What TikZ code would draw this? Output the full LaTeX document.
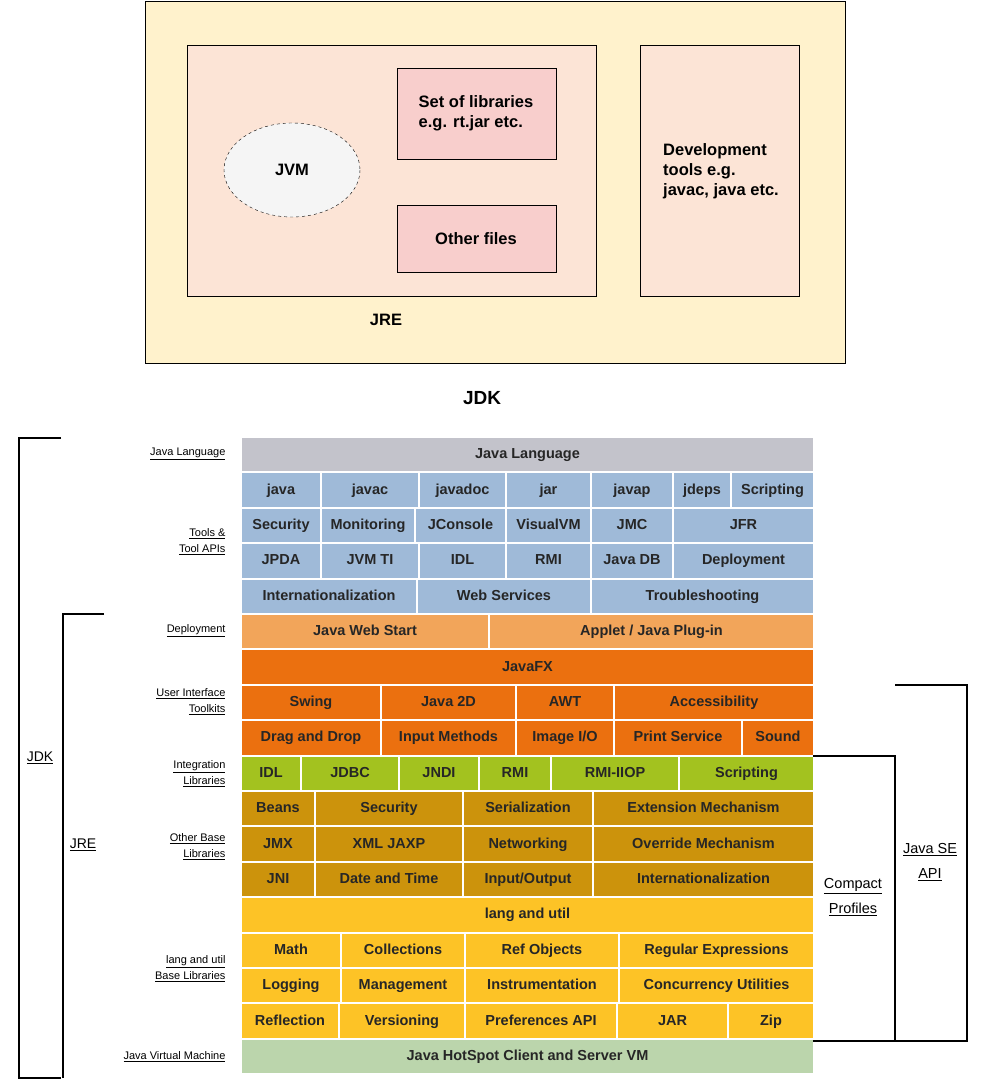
\documentclass[tikz,border=0pt]{standalone}
\usepackage{fontspec}
\setmainfont{Liberation Sans}
\usetikzlibrary{positioning}
\definecolor{creamjdk}{HTML}{FFF2CC}
\definecolor{peachjre}{HTML}{FCE4D6}
\definecolor{pinklib}{HTML}{F8CECC}
\definecolor{langgray}{HTML}{C3C3CB}
\definecolor{toolblue}{HTML}{9FBAD8}
\definecolor{deployorange}{HTML}{F2A55A}
\definecolor{uiorange}{HTML}{EB700F}
\definecolor{integgreen}{HTML}{A3C21F}
\definecolor{basegold}{HTML}{CC930C}
\definecolor{langyellow}{HTML}{FDC326}
\definecolor{vmgreen}{HTML}{BBD5AC}
\tikzset{
  cell/.style={inner sep=0pt, minimum height=33.4pt, text height=11pt, text depth=3pt, font=\bfseries\fontsize{14.5}{16}\selectfont, text=black!85},
  side/.style={align=right, anchor=east, font=\fontsize{11}{16}\selectfont},
  brk/.style={line width=2pt},
  boxtxt/.style={font=\bfseries\fontsize{16.5}{20}\selectfont, align=left}
}
% one row of the platform grid: row, fill, list of x1/x2/text
\newcommand\gridrow[3]{%
  \foreach \xa/\xb/\txt [count=\k] in {#3}
    \node[cell, fill=#2, minimum width={\xb-\xa}] (r#1c\k) at ({(\xa+\xb)/2},{438+35.4*(#1-1)+16.7}) {\txt};}

\begin{document}
\begin{tikzpicture}[x=1pt,y=-1pt]
\useasboundingbox (0,0) rectangle (992,1087);
%================================================================
%	JDK / JRE picture
\draw[fill=creamjdk] (145,1) rectangle (845,363);
\draw[fill=peachjre] (187,45) rectangle (596,296);
\draw[fill=peachjre] (640,45) rectangle (799,296);
\draw[fill=pinklib] (397,68) rectangle (556,159);
\draw[fill=pinklib] (397,205) rectangle (556,272);
\draw[dashed, fill=black!4] (292,170) ellipse (68 and 47);
%----------------------------------------------------------------
\node[boxtxt] (jvm) at (292,170) {JVM};
\node[boxtxt] (libs) at (476,113) {Set of libraries\\e.g. rt.jar etc.};
\node[boxtxt] (other) at (476,239) {Other files};
\node[boxtxt] (dev) at (721,171) {Development\\tools e.g.\\javac, java etc.};
\node[boxtxt] (jrelbl) at (386,320) {JRE};
\node[boxtxt, font=\bfseries\fontsize{19}{22}\selectfont] (jdklbl) at (482,398) {JDK};
%================================================================
%	Platform grid
\gridrow{1}{langgray}{242/813/Java Language}
\gridrow{2}{toolblue}{242/320/java, 322/418/javac, 420/505/javadoc, 507/590/jar, 592/672/javap, 674/730/jdeps, 732/813/Scripting}
\gridrow{3}{toolblue}{242/320/Security, 322/414/Monitoring, 416/505/JConsole, 507/590/VisualVM, 592/672/JMC, 674/813/JFR}
\gridrow{4}{toolblue}{242/320/JPDA, 322/418/JVM TI, 420/505/IDL, 507/590/RMI, 592/672/Java DB, 674/813/Deployment}
\gridrow{5}{toolblue}{242/416/Internationalization, 418/590/Web Services, 592/813/Troubleshooting}
\gridrow{6}{deployorange}{242/488/Java Web Start, 490/813/{Applet / Java Plug-in}}
\gridrow{7}{uiorange}{242/813/JavaFX}
\gridrow{8}{uiorange}{242/380/Swing, 382/515/Java 2D, 517/613/AWT, 615/813/Accessibility}
\gridrow{9}{uiorange}{242/380/Drag and Drop, 382/515/Input Methods, 517/613/{Image I/O}, 615/741/Print Service, 743/813/Sound}
\gridrow{10}{integgreen}{242/300/IDL, 302/398/JDBC, 400/478/JNDI, 480/550/RMI, 552/678/RMI-IIOP, 680/813/Scripting}
\gridrow{11}{basegold}{242/314/Beans, 316/462/Security, 464/592/Serialization, 594/813/Extension Mechanism}
\gridrow{12}{basegold}{242/314/JMX, 316/462/XML JAXP, 464/592/Networking, 594/813/Override Mechanism}
\gridrow{13}{basegold}{242/314/JNI, 316/462/Date and Time, 464/592/{Input/Output}, 594/813/Internationalization}
\gridrow{14}{langyellow}{242/813/lang and util}
\gridrow{15}{langyellow}{242/340/Math, 342/464/Collections, 466/618/Ref Objects, 620/813/Regular Expressions}
\gridrow{16}{langyellow}{242/340/Logging, 342/464/Management, 466/618/Instrumentation, 620/813/Concurrency Utilities}
\gridrow{17}{langyellow}{242/338/Reflection, 340/464/Versioning, 466/616/Preferences API, 618/727/JAR, 729/813/Zip}
\gridrow{18}{vmgreen}{242/813/Java HotSpot Client and Server VM}
%----------------------------------------------------------------
\node[side] (sLang) at (229,454) {\underline{Java Language}};
\node[side] (sTools) at (229,542) {\underline{Tools \&}\\\underline{Tool APIs}};
\node[side] (sDeploy) at (229,631) {\underline{Deployment}};
\node[side] (sUI) at (229,702) {\underline{User Interface}\\\underline{Toolkits}};
\node[side] (sInteg) at (229,774) {\underline{Integration}\\\underline{Libraries}};
\node[side] (sBase) at (229,847) {\underline{Other Base}\\\underline{Libraries}};
\node[side] (sUtil) at (229,969) {\underline{lang and util}\\\underline{Base Libraries}};
\node[side] (sVM) at (229,1057) {\underline{Java Virtual Machine}};
%================================================================
%	Brackets
\draw[brk] (61,438) -- (19,438) -- (19,1078) -- (61,1078);
\draw[brk] (104,614) -- (63,614) -- (63,1078);
\draw[line width=1.5pt] (813,756) -- (895,756) -- (895,1041) -- (813,1041);
\draw[line width=1.5pt] (895,685) -- (967,685) -- (967,1041) -- (895,1041);
%----------------------------------------------------------------
\node[font=\fontsize{14}{17}\selectfont] (jdkbr) at (40,758) {\underline{JDK}};
\node[font=\fontsize{14}{17}\selectfont] (jrebr) at (83,845) {\underline{JRE}};
\node[font=\fontsize{14.5}{25}\selectfont, align=center] (compact) at (853,897) {\underline{Compact}\\\underline{Profiles}};
\node[font=\fontsize{14.5}{25}\selectfont, align=center] (seapi) at (930,862) {\underline{Java SE}\\\underline{API}};
\end{tikzpicture}
\end{document}
